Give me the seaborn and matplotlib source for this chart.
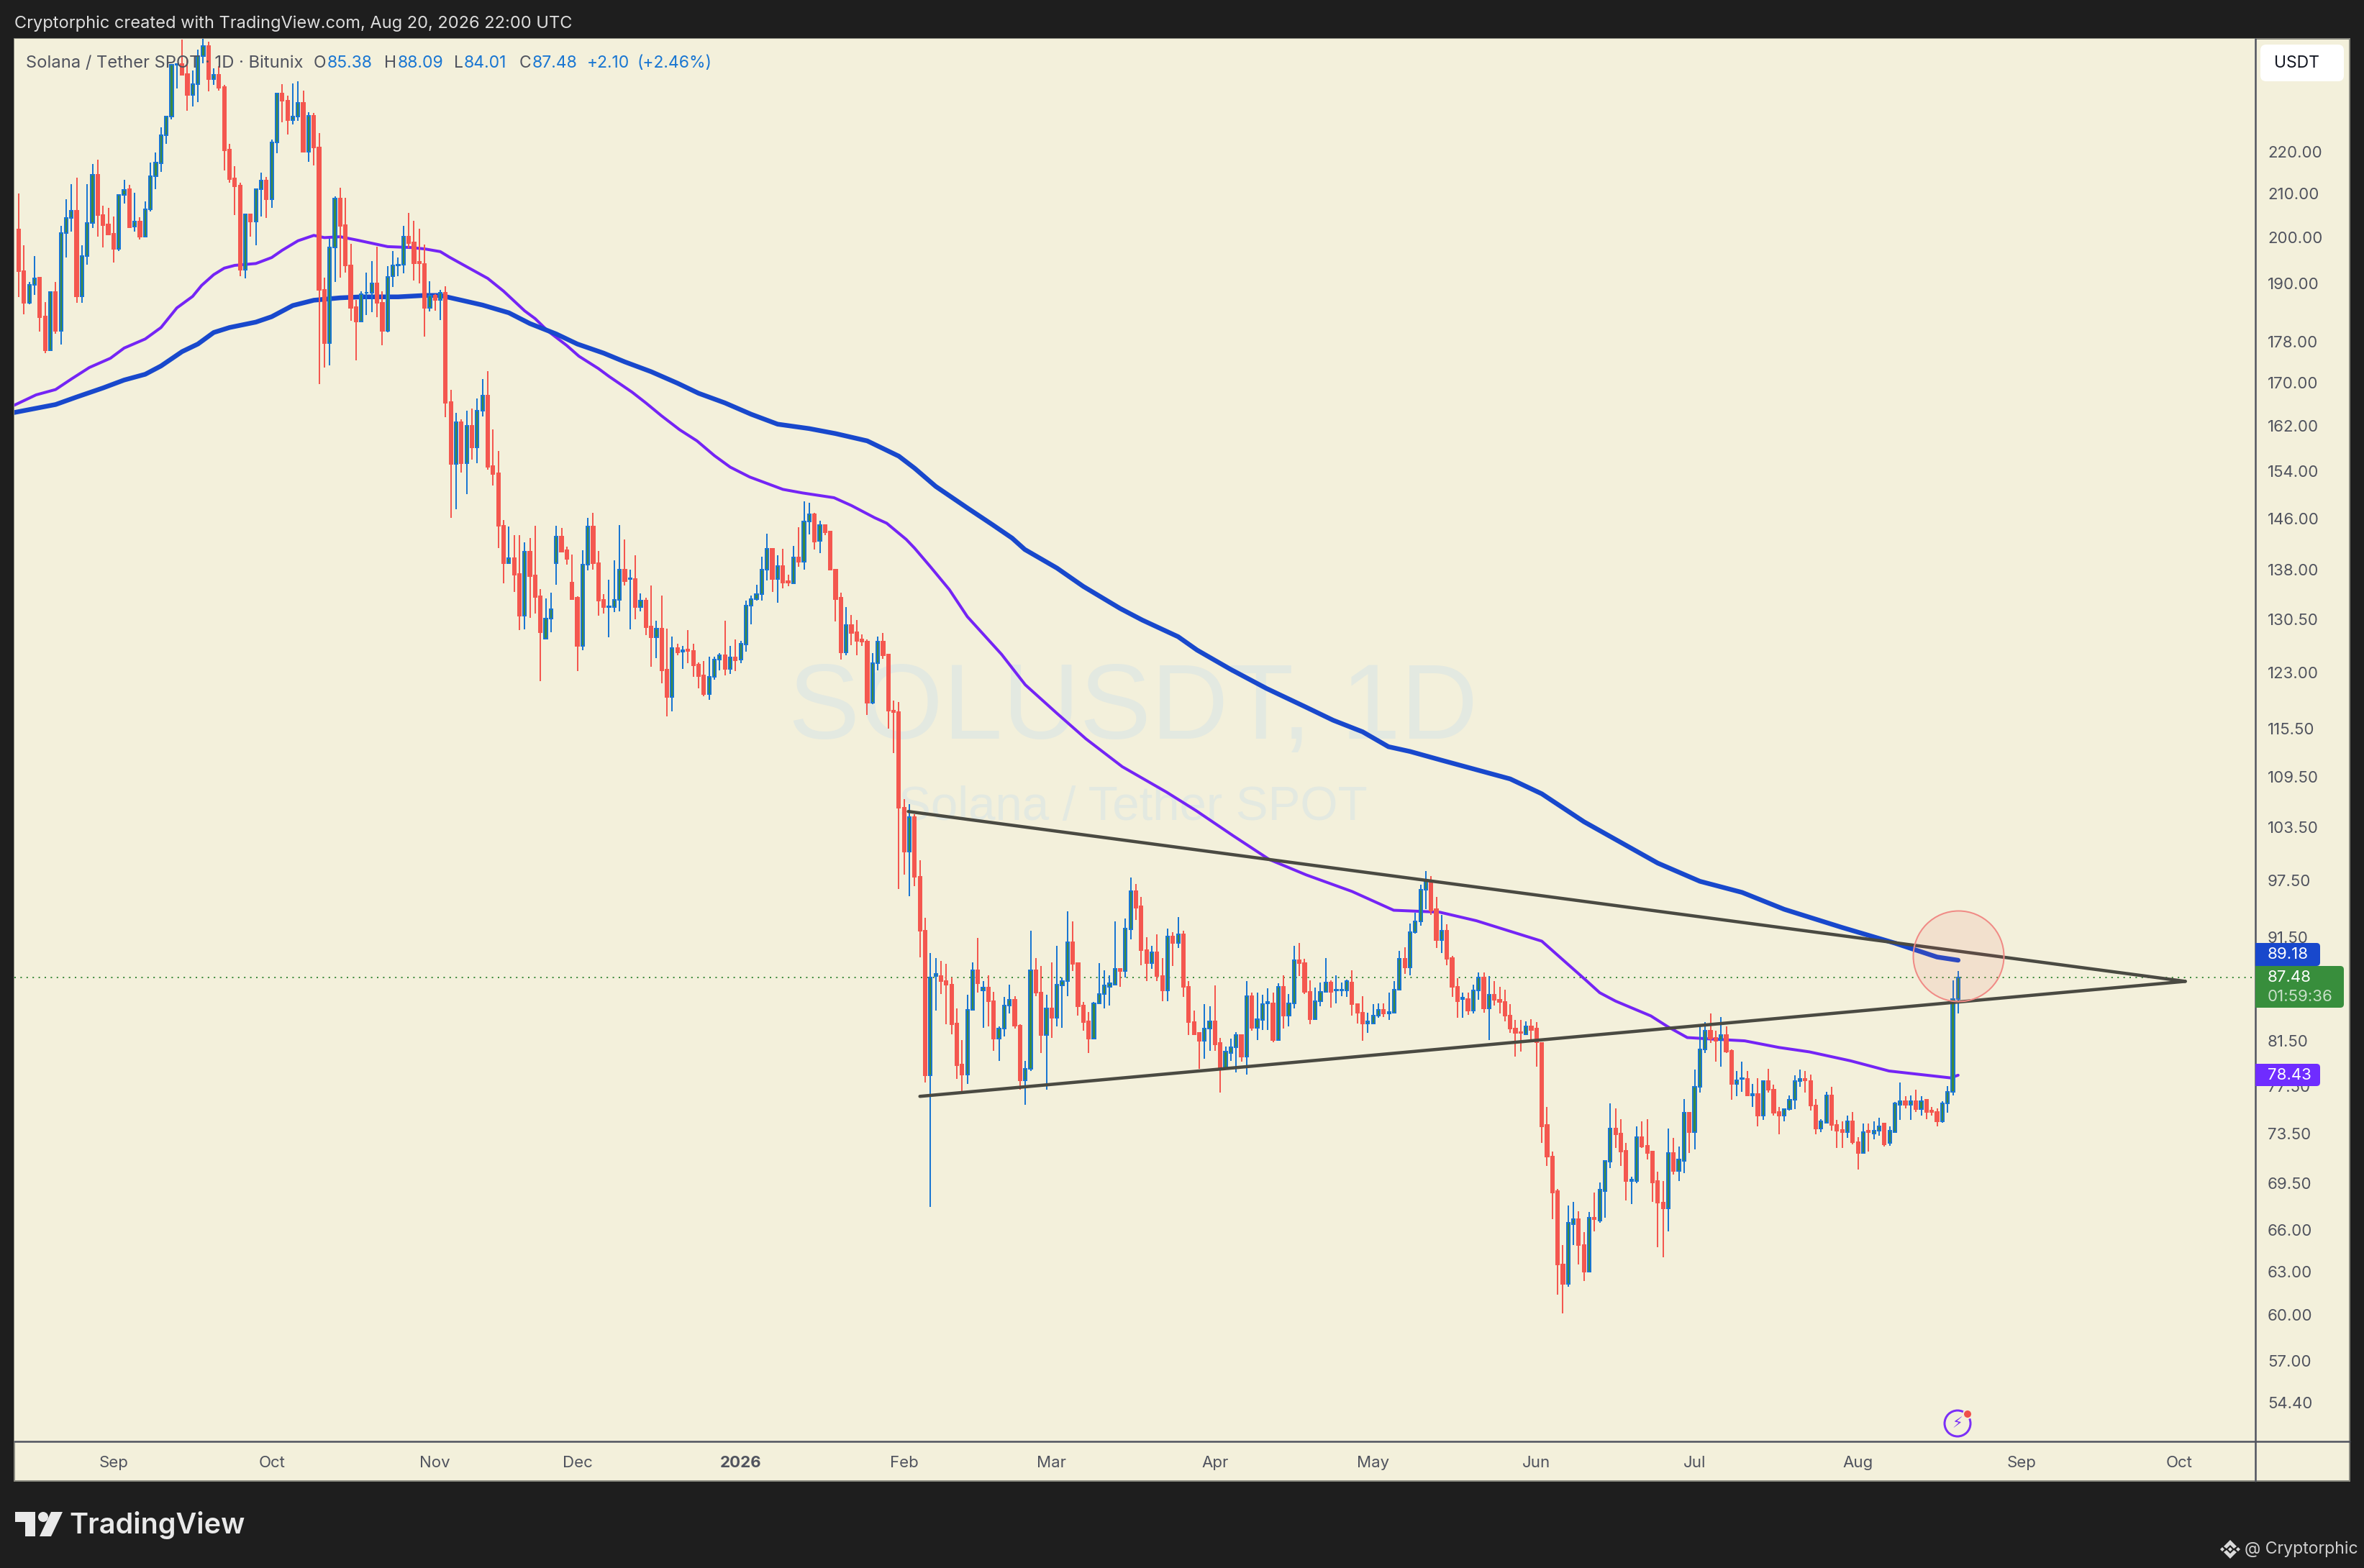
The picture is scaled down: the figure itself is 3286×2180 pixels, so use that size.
import matplotlib
matplotlib.use("Agg")
import numpy as np
import pandas as pd
import seaborn as sns
import matplotlib.pyplot as plt
from matplotlib.patches import Rectangle, FancyBboxPatch, Circle, Polygon
from matplotlib.lines import Line2D
from matplotlib.ticker import NullLocator
from matplotlib.transforms import Affine2D

opens = [201.7,192.6,185.8,189.7,191.1,183,176.3,188.1,180.2,200.9,
204.3,206,187.2,195.9,203.2,214.5,205,202.8,200.7,197.4,
209.6,211,202.4,203.5,200.2,206.3,214.1,217.2,224.1,228.8,
242.4,242.6,239.9,234.5,237.2,244.9,247.7,238.7,239.7,236.5,
220.5,213.5,211.8,192.9,205.2,203.5,211,213,208.6,222.3,
234.9,233,228,228.8,232.4,220.1,229.1,221,188.5,177.7,
197.7,208.8,202.7,193.8,185,182,187.9,187.9,189.9,185.9,
180.2,191.4,193.8,193.9,200.2,198.8,194.5,194.1,184.8,187.4,
186.4,187.9,166.4,155.2,162.6,155.4,162,158.2,164.7,167.5,
154.9,153.6,144.9,139,139.7,137.3,131,140.7,137.1,133.9,
127.7,130.6,139,143.2,141,136,133.7,126.7,138.7,144.8,
139,133.4,132.3,132.3,133.4,138,136.5,136.5,132.3,133.3,
129.5,127.9,129.2,123.4,119.7,126.4,125.9,126.2,126,124.1,
122.6,120.1,122.4,124.8,125.4,123.5,125.1,124.8,126.9,132.5,
133.5,134.2,138,141.2,136.5,138.5,136.2,135.9,139.8,139.2,
145.6,146.8,142.5,145,143.9,138,133.7,125.8,129.7,128.6,
127.6,127.3,118.9,124.3,127.3,125.5,117.9,117.7,105.7,100.7,
104.6,97.9,92.2,78.4,87.6,87.6,87.1,86.8,83.1,79.4,
78.5,84.4,88.2,86.2,86.5,85.2,81.7,82.6,84.8,85.3,
82.9,78,79,88.2,86,82,84.5,83.6,86.7,87.1,
91,88.9,84.8,83.3,81.7,85,85.9,86.6,86.8,88.3,
88.1,92.3,96.3,94.7,90.2,88.9,90,87.6,86.2,91.6,
90.9,91.8,86.6,83.2,82.2,81.5,82.6,83.3,81.3,79,
80.4,80.9,82,80.1,85.7,82.7,83.4,85,85,81.6,
86.6,83.8,85,89.2,88.9,86.1,83.5,85.2,86.1,87,
86.2,86.2,86.2,87,84.9,84.1,83.1,83.1,83.8,84.4,
84,84.1,86.3,89.3,88.5,92,93.1,96.5,97.5,94.4,
91.2,92.2,89.4,86.6,85.4,85.4,84.3,86.2,87.5,84.5,
85.8,85.3,85.1,83.8,82.6,82.3,82.1,82.8,82.6,81.3,
74.2,71.6,68.9,63.5,62.1,66.4,66.8,64.9,63,66.9,
66.7,68.9,71.2,73.9,73.5,72.1,69.7,69.7,73.2,72.5,
72,69.7,68,67.6,71.9,70.5,71.3,75.2,73.6,77.4,
80.7,82.4,81.8,81.6,82,80.6,77.7,78.1,78.1,76.7,
76.8,75,77.9,77.2,75.3,75,75.5,76.3,77.9,78.1,
77.9,75.8,73.9,74.4,76.7,74.2,73.8,73.6,74.5,72.8,
71.9,73.7,73.5,73.7,74.3,72.7,73.6,75.9,76.2,75.9,
76.2,75.5,76.3,75.4,75.3,74.5,76,77,85.38]

highs = [210,198.2,190.2,195.9,191.3,186,188.1,190.2,202.5,208.7,
212.2,213.7,198.2,212.2,217,218.1,207.2,206.7,204.6,209.7,
213.2,212.1,210.1,204.5,208.1,217.3,219.9,226.2,229,242.6,
242.8,249.4,244.1,240.9,246.7,249.6,248.7,241.5,242,237.1,
221.9,216.6,212.6,205.4,205.4,211.2,214.9,213.9,223,235,
237.2,234.2,237.4,238,235.5,229.9,229.7,224.6,191.1,199.7,
209.4,211.4,209,198.5,186.5,188.3,192.3,194.7,197.9,188.3,
193.6,197,195.5,202.5,205.5,203.7,201.9,198.4,190.4,187.7,
188.6,189.4,168.6,164.3,163.2,164.8,165.2,167,170.7,172.2,
161.4,157.5,145.8,144.8,143.4,143.4,142.2,142.9,144.9,135,
133.6,134.5,144.9,144.5,141.6,140.3,133.9,141,146.2,147,
140.9,134.2,136.4,139.4,145,142.7,137.9,140.2,134.3,133.7,
135.5,130.3,134,129.2,128,127,126.7,128.9,127,124.4,
124.6,125.2,125.2,125.7,130.3,126.7,127.6,127.4,133.3,134,
135.6,140,143.6,141.3,140.2,141.2,137.2,141.7,144.6,148.9,
148.6,147,145.7,145.1,144.1,138,134.5,132.3,131.1,130.4,
128.3,127.6,125.7,128,128.5,125.6,119.2,119,106.8,106.2,
105,99.7,93.5,89.9,89.4,89.1,88.8,87.5,84.5,81.6,
85.8,89,91.4,87.1,87.7,86.1,82.8,85.6,86.8,85.7,
83,79.7,92.2,89.4,88.6,85.8,89,90.6,87.5,94.2,
93.1,88.9,85.1,84.2,85.1,88.9,88.2,87.7,93.1,88.3,
93.4,97.8,97.1,95.7,91.5,90.6,91.8,89.4,92.4,92,
93.6,92.2,87.1,84.3,82.2,84.9,84.7,86.7,81.8,81,
81.7,82.3,82,87.1,86,86,85.8,86.4,86,86.9,
87.7,85.9,90.6,90.9,89.3,87.2,86.5,87,89.4,87.2,
87.7,87,87.3,88.2,85,85.7,84.1,84.9,85,85,
86,87.1,90.1,90.5,92.9,94,97,98.5,98,95.7,
93.8,92.8,89.6,87.4,86,86,86.8,88,88,87.6,
87.1,86.6,86.3,84.9,83.4,83.4,83.3,83.5,83.2,81.4,
75.7,72,69.1,64.9,67.8,68.1,67.4,65.8,67.3,68.8,
69.6,71.3,76,75.6,74.7,72.7,70,74.1,74.5,74.7,
72.1,70.4,69.7,73.9,73.1,72.4,76.4,75.2,78.9,82.8,
83.2,84,82.4,83.7,82.8,80.7,78.8,79.6,78.8,77.7,
78.2,77.9,79,77.6,75.7,75.6,76.7,78.4,78.9,78.8,
78.5,76.4,74.7,77,77.4,74.6,74.5,75,75.3,73.2,
74.3,74.3,74.5,74.8,74.3,74.1,76.1,77.8,76.6,76.7,
77.2,76.6,76.3,75.7,75.6,76.2,77.5,87.2,88.09]

lows = [187.1,183.5,185.5,187.5,180,175.7,176.3,179.5,177.4,195.5,
201.3,185.8,185.8,193.9,202,200.2,197.8,200.5,194.4,196.9,
207.6,202,201.2,199.5,200.2,205.8,211,215.2,221.9,228.2,
236.2,239.6,230.3,231.4,232.6,242.8,235.4,237.1,235.5,215.4,
212.5,205,191.5,191,200.2,198.2,204.6,204.4,206.6,219.7,
227.3,224.3,226.8,227.7,219.8,217.6,216.7,169.7,172.9,173.3,
190.3,191.2,192.2,182.1,174.3,181.9,183.4,184,182.9,177.2,
179.8,189.1,191.5,192.1,197.6,190.6,189.9,179,184.1,184.2,
182.3,163.6,146.2,147.6,153.7,150.1,156,155.4,163.7,154.2,
151.5,141.3,135.9,138.8,134.6,129,129.1,130.7,131.4,121.8,
127.7,128.6,135.7,140.7,138.7,133.4,123.2,126.1,137.8,137.9,
131,131.4,127.9,131.6,131.7,135.5,129.1,130.5,131.7,128.2,
123.8,125,121.5,117.1,117.8,125.4,123.5,124.3,122.4,120.8,
119.8,119.3,122,123.3,122.6,122.8,123.2,124.3,125.9,129.8,
133.3,133.3,136.3,134.6,132.9,135.1,135.4,135.9,138.4,137.9,
143.5,141.1,140.5,143.4,138,130.2,124.8,125.4,126.8,125.4,
126.7,117.3,118.7,123.3,124.9,115.5,112.4,96.6,98.1,95.8,
96.9,89.5,77.8,67.7,84.3,85.9,83,82.1,78.1,76.8,
77.7,84.3,86,82.7,82.8,80.6,79.7,81.9,84,82.6,
77.2,75.9,78.8,85.7,80.4,77.2,81.8,82.8,82.7,85.7,
88.1,83.8,82.4,80.4,81.7,85,84.5,84.8,86.8,86.6,
87.5,91.3,93.3,88.7,87.1,88.3,87.1,85.2,85.2,88.6,
90.4,85.6,82,82,79,79.9,80.6,80.6,76.9,79,
79.7,78.7,79.6,78.5,82.4,81.6,82.5,82.5,81.4,81.6,
82.6,82.8,84.5,87.6,85.9,83,83.4,84.7,86,84.6,
85,85.7,85.6,83.8,83.1,81.5,82.2,83.1,83.6,83.7,
83.4,84.1,86.2,87.8,87.7,91.9,92.7,94.4,93.8,90.4,
89.9,88.7,85.6,83.6,83.6,83.9,84,85.3,84.1,81.6,
84.8,84,83.3,82.2,80.1,80.5,82,81.4,79.2,72.7,
70.9,66.8,61.4,60.1,61.9,64.9,63.5,62.3,63,65.9,
66.5,66.9,70.7,72.3,70.9,68.2,67.9,69.5,72.3,71.4,
68.1,64.7,64,65.9,70.2,69.7,70.3,71.9,72.2,76.9,
80.4,81.3,79.6,79.2,80.4,76.3,76.6,77,76.7,75.7,
74.1,74.6,76.9,75,73.4,74.5,75.4,75.5,77.4,76.9,
75.4,73.4,73.6,74.4,73.7,72.3,72.3,73.1,72.6,70.6,
71.9,72,73,73.3,72.4,72.5,73.6,74.6,75.6,74.6,
75.3,75,74.7,75,74.1,74.4,75.2,76.7,84.01]

closes = [192.5,185.8,189.7,191,182.9,176.2,188.1,180.2,200.9,204.3,
206,187.2,195.9,203.2,214.5,205,202.7,200.6,197.4,209.7,
210.9,202.3,203.5,200.2,206.3,214.1,217.3,224.2,228.9,242.5,
242.7,239.8,234.5,237.2,244.8,247.7,238.6,239.7,236.3,220.4,
213.4,211.7,192.8,205.2,203.5,211.1,213,208.6,222.3,234.9,
233,228,228.8,232.4,220,229.1,221,188.5,177.7,197.7,
208.8,202.5,193.8,184.8,182,187.6,188,189.9,185.8,180.2,
191.3,193.8,194,200.2,198.7,194.3,194.3,184.8,187.4,186.4,
187.9,166.2,155.2,162.6,155.4,162,158.2,164.7,167.5,154.8,
153.5,144.9,139,139.7,137.2,131,140.7,137,133.8,128.6,
130.6,132,143.1,140.8,139.6,133.5,126.7,138.7,144.8,139,
133.3,132.3,132.4,133.4,138,136.2,136.6,132.3,133.3,129.4,
127.9,129.2,123.3,119.7,126.4,125.8,126.1,126,124,122.5,
120.1,122.4,124.8,125.4,123.5,125.1,124.7,127,132.5,133.5,
134.2,138,141.2,136.5,138.5,136,136,139.8,139.2,145.6,
146.8,142.4,145,143.8,138,133.5,125.8,129.7,128.5,127.4,
127.3,118.9,124.3,127.3,125.4,117.9,117.7,105.7,100.7,104.6,
97.9,92.2,78.4,87.5,87.8,87.1,86.8,83,79.3,78.5,
84.4,88.2,86.9,86.5,85.2,81.7,82.6,84.8,85.3,82.9,
78,79,88.2,86,82,84.5,83.6,86.8,87.1,91,
88.8,84.7,83.2,81.7,85,85.9,86.7,86.9,88.3,88.1,
92.4,96.3,94.6,90.2,88.9,90,87.6,86.2,91.6,90.9,
91.8,86.6,83.2,82.1,81.5,82.6,83.3,81.2,79,80.5,
80.9,82,80.1,85.7,82.7,83.5,84.9,85.1,81.6,86.6,
83.8,85,89.2,88.9,86.1,83.5,85.2,86.1,87,86.1,
86.3,86.3,87.1,84.9,84.1,83.1,83.3,83.8,84.4,84,
84.2,86.3,89.3,88.5,92,93.1,96.5,97.5,94.3,91.2,
92.2,89.3,86.6,85.2,85.5,84.3,86.2,87.5,84.5,85.8,
85.3,85.1,83.8,82.6,82.2,82.2,82.8,82.5,81.4,74.1,
71.6,68.8,63.5,62.1,66.5,66.8,64.9,63,66.9,66.8,
69,71.3,73.9,73.4,72,69.7,69.8,73.2,72.4,71.9,
69.6,68,67.6,71.9,70.5,71.4,75.2,73.6,77.4,80.7,
82.4,81.7,81.5,82,80.5,77.7,78,78.2,76.7,76.8,
75,77.9,77.2,75.2,75,75.5,76.3,77.9,78.1,78,
75.8,73.9,74.5,76.7,74.2,73.7,73.6,74.5,72.8,71.9,
73.6,73.6,73.7,74.1,72.6,73.7,76,76.2,75.9,76.2,
75.5,76.2,75.3,75.3,74.5,76,77,85.4,87.48]

ma_long_bar = [-1,7,11,16,20,24,27,31,34,37,40,45,48,52,56,61,65,72,77,80,84,88,93,97,102,106,111,115,120,125,129,134,139,144,150,155,161,167,170,174,180,184.7,188.5,190.9,197,202,209,213.2,220,223.6,230,236.8,244,249.4,255,259.9,264,270,283,289,297,311,319,327,335,346,356,364,368]
ma_long_value = [164.4,165.9,167.3,169,170.5,171.6,173.2,176,177.5,179.8,180.8,181.9,183,185.3,186.4,186.9,187.1,187.1,187.4,187.4,186.4,185.4,183.8,181.6,179.5,177.5,175.7,174,172.1,169.9,168,166.2,164.1,162.3,161.5,160.6,159.3,156.6,154.5,151.4,147.8,145.1,142.9,141.1,138.2,135.4,132.1,130.4,128,126.1,123.4,120.8,118.4,116.6,115.1,113.2,112.6,111.5,109.2,107.4,104.1,99.4,97.4,96.2,94.4,92.5,90.9,89.5,89.18]

ma_short_bar = [-1,3.3,7,10,13.4,17.4,20,24,27,30,33,34.7,37,39,41,45,48,50,53,56,58,61,64.4,70,74.4,77,80,81.7,85.8,89,92,96,98,100.4,104,106.3,110,112,116.4,119,122,125.4,128.7,132,135,138.7,145,148.7,154.7,158,162.4,164.7,168.4,170,173,176.6,180,186.5,191,197,202.5,209.4,217.8,223.4,230.4,237.3,244.3,253,260.9,269.6,276.6,289,297.4,300,303,309.7,312.9,316.6,320,327.5,334,339.8,347.6,354.9,366.5,368]
ma_short_value = [165.7,167.7,168.7,170.7,172.9,174.7,176.7,178.5,180.8,184.8,187.2,189.5,191.8,193.2,193.8,194.2,195.5,197.1,199.2,200.4,199.9,200.1,199.3,197.9,197.7,197.4,196.8,195.6,193,191,188.3,184.2,182.6,180.1,177.2,175.1,172.7,171.2,168.2,166.2,163.8,161.3,159.3,156.7,154.7,153,150.9,150.3,149.5,148.2,146.2,145.3,142.7,141.3,138.4,134.9,130.9,125.5,121.3,117.5,114.2,110.7,107.6,105.4,102.5,99.8,98.1,96.3,94.3,94.1,93.2,91.1,87.2,86,85.2,83.8,82.8,81.8,81.7,81.5,80.9,80.5,79.7,78.8,78.2,78.43]

upper_trend_bar = [168.8, 411.1]
upper_trend_value = [105.3, 87.1]
lower_trend_bar = [171.0, 411.1]
lower_trend_value = [76.6, 87.1]

price_ticks = [220,210,200,190,178,170,162,154,146,138,130.5,123,115.5,109.5,103.5,97.5,91.5,81.5,77.5,73.5,69.5,66,63,60,57,54.4]
month_bars = [18,48,79,106,137,168,196,227,257,288,318,349,380,410]
month_labels = ["Sep","Oct","Nov","Dec","2026","Feb","Mar","Apr","May","Jun","Jul","Aug","Sep","Oct"]
last_close = 87.48
long_last = 89.18
short_last = 78.43

W, H = 3286, 2180
DARK = "#1E1E1E"; BG = "#F3F0DB"; AXC = "#50535E"
RED = "#F4574F"; BLUE = "#1976D2"; GREEN = "#3D8B3D"
MA_BLUE = "#1848CC"; MA_PURPLE = "#7424F5"
FONT = "Inter"

sns.set_theme(style="white")
plt.rcParams["font.family"] = [FONT, "DejaVu Sans"]
plt.rcParams["axes.unicode_minus"] = False

fig = plt.figure(figsize=(W/100, H/100), dpi=100, facecolor=DARK)
PX = Affine2D().scale(1, -1).translate(0, H)   # top-left pixel space

def pxw(p):
    return p * 72 / 100

def ftext(x, y, s, **kw):
    kw.setdefault("family", [FONT, "DejaVu Sans"])
    kw.setdefault("va", "center")
    return fig.text(x / W, 1 - y / H, s, **kw)

fig.add_artist(Rectangle((20, 54), 3246, 2005, transform=PX, fc=BG, ec="#8A8A80", lw=pxw(2), zorder=-2))

ax = fig.add_axes([20/W, (H-2004)/H, 3115/W, 1950/H], zorder=0)
ax.set_facecolor(BG)
ax.set_yscale("log")

df = pd.DataFrame({"open": opens, "high": highs, "low": lows, "close": closes})
df["bar"] = np.arange(len(df))
up = df[df.close >= df.open]
dn = df[df.close < df.open]

# watermark
ax.text(0.4992, 1 - (989-54)/1950, "SOLUSDT, 1D", transform=ax.transAxes, family="Liberation Sans", fontsize=107,
        color="#E3E9E1", ha="center", va="center", zorder=1)
ax.text(0.4992, 1 - (1123-54)/1950, "Solana / Tether SPOT", transform=ax.transAxes, family="Liberation Sans", fontsize=48.3,
        color="#E3E9E1", ha="center", va="center", zorder=1)

ax.axhline(last_close, color=GREEN, lw=pxw(2), ls=(0, (1, 3.2)), zorder=2)

sns.lineplot(x=ma_short_bar, y=ma_short_value, ax=ax, color=MA_PURPLE, linewidth=pxw(4), estimator=None, errorbar=None, sort=False, legend=False, zorder=3)
sns.lineplot(x=ma_long_bar, y=ma_long_value, ax=ax, color=MA_BLUE, linewidth=pxw(6.5), estimator=None, errorbar=None, sort=False, legend=False, zorder=3)

ax.vlines(dn.bar, dn.low, dn.high, color=RED, lw=pxw(2), zorder=4)
ax.vlines(up.bar, up.low, up.high, color=BLUE, lw=pxw(2), zorder=4)
bw = 4.2 / 7.326
ax.bar(dn.bar, dn.open - dn.close, bottom=dn.close, width=bw, color=RED, edgecolor=RED, linewidth=pxw(2), zorder=5)
ax.bar(up.bar, up.close - up.open, bottom=up.open, width=bw, color=GREEN, edgecolor=BLUE, linewidth=pxw(2), zorder=5)

for bx, by in ((upper_trend_bar, upper_trend_value), (lower_trend_bar, lower_trend_value)):
    sns.lineplot(x=bx, y=by, ax=ax, color="#4A4A42", linewidth=pxw(4.5), estimator=None, errorbar=None, sort=False, legend=False, zorder=6)

ax.scatter([368], [89.6], s=pxw(126)**2, facecolor=(0.95, 0.35, 0.35, 0.10), edgecolor="#F08A85", linewidth=pxw(2), zorder=7)

ax.set_xlim(-0.82, 424.4)
ax.set_ylim(52.1, 249.6)
ax.yaxis.tick_right()
ax.yaxis.set_minor_locator(NullLocator())
ax.xaxis.set_minor_locator(NullLocator())
ax.set_yticks(price_ticks)
ax.set_yticklabels([f"{v:.2f}" for v in price_ticks])
ax.set_xticks(month_bars)
ax.set_xticklabels(month_labels)
ax.tick_params(axis="y", length=0, pad=pxw(17), labelsize=16, labelcolor=AXC)
ax.tick_params(axis="x", length=0, pad=pxw(20), labelsize=16, labelcolor=AXC)
for t in ax.get_xticklabels():
    if t.get_text() == "2026":
        t.set_fontweight("bold")
for name, sp in ax.spines.items():
    sp.set_visible(False)
ax.grid(False)

fig.add_artist(Line2D([3135, 3135], [54, 2059], transform=PX, color=AXC, lw=pxw(2.5), zorder=3))
fig.add_artist(Line2D([20, 3266], [2004, 2004], transform=PX, color=AXC, lw=pxw(2.5), zorder=3))

def badge(y0, y1, x1, color):
    fig.add_artist(FancyBboxPatch((3135, y0), x1 - 3135, y1 - y0, boxstyle="round,pad=0,rounding_size=5", transform=PX, fc=color, ec="none", zorder=4))
    fig.add_artist(Rectangle((3135, y0), 12, y1 - y0, transform=PX, fc=color, ec="none", zorder=4))

badge(1311, 1343, 3225, MA_BLUE)
badge(1343, 1401, 3258, "#388E3C")
badge(1479, 1510, 3225, "#6F2CFF")
ftext(3152, 1327, f"{long_last:.2f}", color="white", fontsize=16, zorder=5)
ftext(3152, 1359, f"{last_close:.2f}", color="white", fontsize=16, zorder=5)
ftext(3152, 1386, "01:59:36", color="#C8E0C8", fontsize=16, zorder=5)
ftext(3152, 1495, f"{short_last:.2f}", color="white", fontsize=16, zorder=5)

fig.add_artist(FancyBboxPatch((3142, 62), 116, 51, boxstyle="round,pad=0,rounding_size=8", transform=PX, fc="white", ec="none", zorder=4))
ftext(3161, 88, "USDT", color="#131722", fontsize=16.5, zorder=5)

# header
ftext(20, 33, "Cryptorphic created with TradingView.com, Aug 20, 2026 22:00 UTC", color="#DDDDDD", fontsize=17, zorder=5)

# legend line
GREY = "#50535E"; LB = "#1976D2"
ftext(36, 88, "Solana / Tether SPOT · 1D · Bitunix", color=GREY, fontsize=17.1, zorder=5)
for x, s, c in [(436, "O", GREY), (455, "85.38", LB),
                (534, "H", GREY), (553, "88.09", LB), (631, "L", GREY), (645, "84.01", LB),
                (722, "C", GREY), (740, "87.48", LB), (816, "+2.10", LB), (886, "(+2.46%)", LB)]:
    ftext(x, 88, s, color=c, fontsize=16.5, zorder=5)

# footer logo and text
LG = "#E9E9E9"
fig.add_artist(Polygon([(21,2102),(49,2102),(49,2136),(35,2136),(35,2116),(21,2116)], closed=True, transform=PX, fc=LG, ec="none", zorder=4))
fig.add_artist(Circle((60, 2109), 7, transform=PX, fc=LG, ec="none", zorder=4))
fig.add_artist(Polygon([(71,2102),(87,2102),(71,2136),(55,2136)], closed=True, transform=PX, fc=LG, ec="none", zorder=4))
ftext(96, 2121, "TradingView", color=LG, fontsize=28.5, fontweight="semibold", zorder=5)

DG = "#DADADA"
cx, cy = 3100, 2154
fig.add_artist(Polygon([(cx,cy-13),(cx+9,cy-4),(cx+5,cy-1),(cx,cy-6),(cx-5,cy-1),(cx-9,cy-4)], closed=True, transform=PX, fc=DG, ec="none", zorder=4))
fig.add_artist(Polygon([(cx,cy+13),(cx+9,cy+4),(cx+5,cy+1),(cx,cy+6),(cx-5,cy+1),(cx-9,cy+4)], closed=True, transform=PX, fc=DG, ec="none", zorder=4))
for dx in (-11, 0, 11):
    fig.add_artist(Polygon([(cx+dx-3,cy),(cx+dx,cy-3),(cx+dx+3,cy),(cx+dx,cy+3)], closed=True, transform=PX, fc=DG, ec="none", zorder=4))
ftext(3120, 2154, "@ Cryptorphic", color="#CFCFCF", fontsize=16.6, zorder=5)

# lightning button
fig.add_artist(Circle((2721, 1979), 18, transform=PX, fc="none", ec="#7B2FF7", lw=pxw(3), zorder=4))
ftext(2721, 1979, "\u26A1", family="DejaVu Sans", color="#7B2FF7", fontsize=15, ha="center", zorder=5)
fig.add_artist(Circle((2735, 1966), 6, transform=PX, fc="#F0504A", ec=BG, lw=pxw(2), zorder=5))

fig.savefig("out.png", dpi=100, facecolor=DARK)
